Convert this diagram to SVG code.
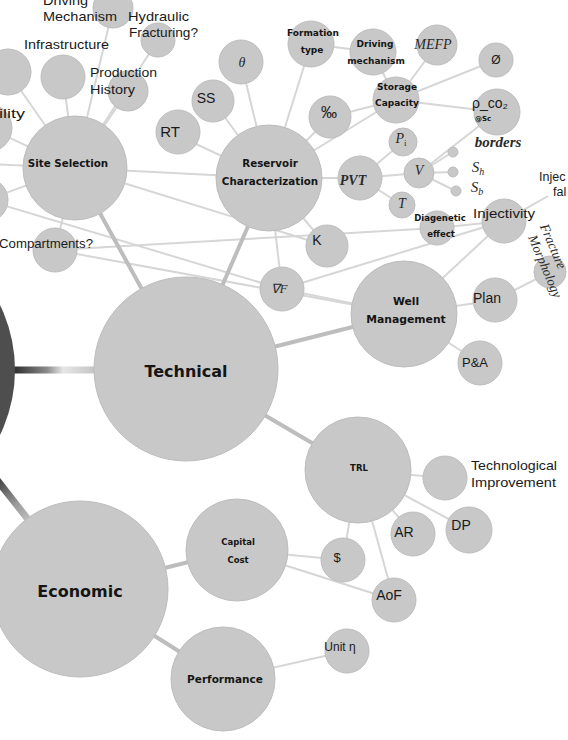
<svg xmlns="http://www.w3.org/2000/svg" width="568" height="740" viewBox="0 0 568 740">
<defs>
<style>
.n{fill:#c8c8c8;stroke:#bdbdbd;stroke-width:1}
.l{stroke:#d6d6d6;stroke-width:2;fill:none}
.th{stroke:#bdbdbd;stroke-width:4;fill:none}
.b{font-family:"DejaVu Sans",sans-serif;font-weight:bold;fill:#151515;text-anchor:middle}
.r{font-family:"Liberation Sans",Arial,sans-serif;fill:#1a1a1a}
.m{font-family:"Liberation Serif","Times New Roman",serif;font-style:italic;fill:#2a2a2a;text-anchor:middle}
</style>
<linearGradient id="gT" gradientUnits="userSpaceOnUse" x1="14" y1="370" x2="96" y2="370">
<stop offset="0" stop-color="#2e2e2e"/><stop offset="0.4" stop-color="#8a8a8a"/><stop offset="0.6" stop-color="#e6e6e6"/><stop offset="1" stop-color="#c2c2c2"/>
</linearGradient>
<linearGradient id="gE" gradientUnits="userSpaceOnUse" x1="-5" y1="478" x2="30" y2="522">
<stop offset="0" stop-color="#3a3a3a"/><stop offset="0.6" stop-color="#9a9a9a"/><stop offset="1" stop-color="#c2c2c2"/>
</linearGradient>
</defs>
<rect width="568" height="740" fill="#ffffff"/>
<g id="connectors">
<line class="l" x1="75" y1="168" x2="8" y2="72"/>
<line class="l" x1="75" y1="168" x2="-12" y2="128"/>
<line class="l" x1="75" y1="168" x2="63" y2="77"/>
<line class="l" x1="75" y1="168" x2="113" y2="8"/>
<line class="l" x1="75" y1="168" x2="158" y2="40"/>
<line class="l" x1="75" y1="168" x2="128" y2="91"/>
<line class="l" x1="75" y1="168" x2="-14" y2="200"/>
<line class="l" x1="75" y1="168" x2="-30" y2="163"/>
<line class="l" x1="75" y1="168" x2="55" y2="250"/>
<line class="l" x1="75" y1="168" x2="269" y2="178"/>
<line class="l" x1="75" y1="168" x2="327" y2="246"/>
<line class="l" x1="55" y1="250" x2="404" y2="314"/>
<line class="l" x1="55" y1="250" x2="437" y2="228"/>
<line class="l" x1="-14" y1="200" x2="282" y2="289"/>
<line class="l" x1="269" y1="178" x2="241" y2="62"/>
<line class="l" x1="269" y1="178" x2="213" y2="101"/>
<line class="l" x1="269" y1="178" x2="170" y2="132"/>
<line class="l" x1="269" y1="178" x2="311" y2="44"/>
<line class="l" x1="269" y1="178" x2="330" y2="117"/>
<line class="l" x1="269" y1="178" x2="396" y2="100"/>
<line class="l" x1="269" y1="178" x2="360" y2="178"/>
<line class="l" x1="269" y1="178" x2="327" y2="246"/>
<line class="l" x1="269" y1="178" x2="282" y2="289"/>
<line class="l" x1="360" y1="178" x2="403" y2="142"/>
<line class="l" x1="360" y1="178" x2="419" y2="173"/>
<line class="l" x1="360" y1="178" x2="402" y2="205"/>
<line class="l" x1="396" y1="100" x2="373" y2="52"/>
<line class="l" x1="396" y1="100" x2="437" y2="45"/>
<line class="l" x1="396" y1="100" x2="496" y2="60"/>
<line class="l" x1="396" y1="100" x2="497" y2="112"/>
<line class="l" x1="396" y1="100" x2="330" y2="117"/>
<line class="l" x1="311" y1="44" x2="373" y2="52"/>
<line class="l" x1="497" y1="112" x2="419" y2="173"/>
<line class="l" x1="419" y1="173" x2="453" y2="152"/>
<line class="l" x1="419" y1="173" x2="453" y2="172"/>
<line class="l" x1="419" y1="173" x2="456" y2="191"/>
<line class="l" x1="437" y1="228" x2="504" y2="221"/>
<line class="l" x1="504" y1="221" x2="404" y2="314"/>
<line class="l" x1="504" y1="221" x2="548" y2="196"/>
<line class="l" x1="282" y1="289" x2="504" y2="221"/>
<line class="l" x1="282" y1="289" x2="404" y2="314"/>
<line class="l" x1="404" y1="314" x2="495" y2="300"/>
<line class="l" x1="404" y1="314" x2="480" y2="363"/>
<line class="l" x1="495" y1="300" x2="550" y2="272"/>
<line class="l" x1="358" y1="470" x2="445" y2="478"/>
<line class="l" x1="358" y1="470" x2="469" y2="530"/>
<line class="l" x1="358" y1="470" x2="413" y2="534"/>
<line class="l" x1="358" y1="470" x2="343" y2="560"/>
<line class="l" x1="358" y1="470" x2="394" y2="600"/>
<line class="l" x1="237" y1="550" x2="343" y2="560"/>
<line class="l" x1="237" y1="550" x2="394" y2="600"/>
<line class="l" x1="223" y1="679" x2="347" y2="651"/>
<line class="th" x1="186" y1="369" x2="75" y2="168"/>
<line class="th" x1="186" y1="369" x2="269" y2="178"/>
<line class="th" x1="186" y1="369" x2="404" y2="314"/>
<line class="th" x1="186" y1="369" x2="358" y2="470"/>
<line class="th" x1="80" y1="589" x2="237" y2="550"/>
<line class="th" x1="80" y1="589" x2="223" y2="679"/>
<line x1="10" y1="370" x2="100" y2="370" stroke="url(#gT)" stroke-width="7"/>
<line x1="-10" y1="471" x2="34" y2="527" stroke="url(#gE)" stroke-width="7"/>
</g>
<g id="core"><circle cx="-133" cy="370" r="148" fill="#4e4e4e"/></g>
<g id="technical"><circle class="n" cx="186" cy="369" r="92"/><text class="b" x="186" y="377" font-size="16">Technical</text></g>
<g id="economic"><circle class="n" cx="80" cy="589" r="88"/><text class="b" x="80" y="597" font-size="16">Economic</text></g>
<g id="site-selection"><circle class="n" cx="75" cy="168" r="52"/><text class="b" x="68" y="167" font-size="10.3">Site Selection</text></g>
<g id="reservoir"><circle class="n" cx="269" cy="178" r="53"/><text class="b" x="270" y="167" font-size="10.3">Reservoir</text><text class="b" x="270" y="185" font-size="10.3">Characterization</text></g>
<g id="well-management"><circle class="n" cx="404" cy="314" r="53"/><text class="b" x="406" y="305" font-size="10.8">Well</text><text class="b" x="406" y="323" font-size="10.8">Management</text></g>
<g id="trl"><circle class="n" cx="358" cy="470" r="53"/><text class="b" x="359" y="471" font-size="8.5">TRL</text></g>
<g id="capital-cost"><circle class="n" cx="237" cy="550" r="51"/><text class="b" x="238" y="545" font-size="8.5" fill="#555">Capital</text><text class="b" x="238" y="563" font-size="8.5" fill="#555">Cost</text></g>
<g id="performance"><circle class="n" cx="223" cy="679" r="52"/><text class="b" x="225" y="683" font-size="10.5">Performance</text></g>
<g id="unit-eta"><circle class="n" cx="347" cy="651" r="22"/><text class="r" x="340" y="651" font-size="12" text-anchor="middle" fill="#444">Unit η</text></g>
<g id="aof"><circle class="n" cx="394" cy="600" r="22"/><text class="r" x="389" y="600" font-size="14" text-anchor="middle">AoF</text></g>
<g id="dollar"><circle class="n" cx="343" cy="560" r="22"/><text class="r" x="337" y="562" font-size="13" text-anchor="middle" fill="#444">$</text></g>
<g id="ar"><circle class="n" cx="413" cy="534" r="22"/><text class="r" x="404" y="537" font-size="14" text-anchor="middle">AR</text></g>
<g id="dp"><circle class="n" cx="469" cy="530" r="23"/><text class="r" x="461" y="530" font-size="14" text-anchor="middle">DP</text></g>
<g id="tech-improvement"><circle class="n" cx="445" cy="478" r="22"/><text class="r" x="471" y="470" font-size="13" textLength="86" lengthAdjust="spacingAndGlyphs">Technological</text><text class="r" x="471" y="487" font-size="13" textLength="85" lengthAdjust="spacingAndGlyphs">Improvement</text></g>
<g id="pa"><circle class="n" cx="480" cy="363" r="22"/><text class="r" x="475" y="367" font-size="13" text-anchor="middle">P&amp;A</text></g>
<g id="plan"><circle class="n" cx="495" cy="300" r="22"/><text class="r" x="487" y="303" font-size="14" text-anchor="middle">Plan</text></g>
<g id="grad-f"><circle class="n" cx="282" cy="289" r="22"/><text class="m" x="279" y="293" font-size="13">∇F</text></g>
<g id="k"><circle class="n" cx="327" cy="246" r="21"/><text class="r" x="317" y="245" font-size="14" text-anchor="middle" fill="#444">K</text></g>
<g id="pvt"><circle class="n" cx="360" cy="178" r="22"/><text class="m" x="353" y="185" font-size="14" font-weight="bold" fill="#111">PVT</text></g>
<g id="compartments"><circle class="n" cx="55" cy="250" r="22"/><text class="r" x="-1" y="248" font-size="13.5" textLength="94" lengthAdjust="spacingAndGlyphs">Compartments?</text></g>
<g id="rt"><circle class="n" cx="178" cy="132" r="22"/><text class="r" x="170" y="137" font-size="15" text-anchor="middle">RT</text></g>
<g id="left-a"><circle class="n" cx="8" cy="72" r="23"/></g>
<g id="left-b"><circle class="n" cx="-12" cy="128" r="24"/><text class="r" x="-1" y="118" font-size="13.5" textLength="26" lengthAdjust="spacingAndGlyphs">ility</text></g>
<g id="left-c"><circle class="n" cx="-14" cy="200" r="22"/></g>
<g id="infrastructure"><circle class="n" cx="63" cy="77" r="22"/><text class="r" x="24" y="49" font-size="13" textLength="85" lengthAdjust="spacingAndGlyphs">Infrastructure</text></g>
<g id="production-history"><circle class="n" cx="128" cy="91" r="20"/><text class="r" x="90" y="77" font-size="13" textLength="67" lengthAdjust="spacingAndGlyphs">Production</text><text class="r" x="90" y="94" font-size="13" textLength="45" lengthAdjust="spacingAndGlyphs">History</text></g>
<g id="driving-mechanism-a"><circle class="n" cx="113" cy="8" r="20"/><text class="r" x="43" y="5" font-size="13" textLength="45" lengthAdjust="spacingAndGlyphs">Driving</text><text class="r" x="43" y="21" font-size="13" textLength="74" lengthAdjust="spacingAndGlyphs">Mechanism</text></g>
<g id="hydraulic-fracturing"><circle class="n" cx="158" cy="40" r="17"/><text class="r" x="128" y="21" font-size="13" textLength="61" lengthAdjust="spacingAndGlyphs">Hydraulic</text><text class="r" x="129" y="37" font-size="13" textLength="69" lengthAdjust="spacingAndGlyphs">Fracturing?</text></g>
<g id="theta"><circle class="n" cx="241" cy="62" r="22"/><text class="m" x="242" y="67" font-size="14">θ</text></g>
<g id="ss"><circle class="n" cx="213" cy="101" r="21"/><text class="r" x="206" y="103" font-size="14" text-anchor="middle" fill="#444">SS</text></g>
<g id="formation-type"><circle class="n" cx="311" cy="44" r="23"/><text class="b" x="313" y="36" font-size="9">Formation</text><text class="b" x="312" y="53" font-size="9">type</text></g>
<g id="driving-mechanism-b"><circle class="n" cx="373" cy="52" r="23"/><text class="b" x="375" y="47" font-size="9">Driving</text><text class="b" x="376" y="64" font-size="9">mechanism</text></g>
<g id="mefp"><circle class="n" cx="437" cy="45" r="20"/><text class="m" x="433" y="49" font-size="14">MEFP</text></g>
<g id="phi"><circle class="n" cx="496" cy="60" r="17"/><text class="r" x="496" y="64" font-size="12" text-anchor="middle" fill="#555">Ø</text></g>
<g id="permil"><circle class="n" cx="330" cy="117" r="21"/><text class="r" x="329" y="118" font-size="16" text-anchor="middle" fill="#555">‰</text></g>
<g id="storage-capacity"><circle class="n" cx="396" cy="100" r="23"/><text class="b" x="397" y="90" font-size="9">Storage</text><text class="b" x="397" y="106" font-size="9">Capacity</text></g>
<g id="rho-co2"><circle class="n" cx="497" cy="112" r="23"/><text class="r" x="472" y="108" font-size="14" fill="#333">ρ_co₂</text><text class="b" x="483" y="121" font-size="7" fill="#444">@Sc</text></g>
<g id="p-i"><circle class="n" cx="403" cy="142" r="14"/><text class="m" x="401" y="143" font-size="14">P<tspan font-size="9" dy="3" font-style="normal">i</tspan></text></g>
<g id="v"><circle class="n" cx="419" cy="173" r="15"/><text class="m" x="419" y="175" font-size="14">V</text></g>
<g id="t"><circle class="n" cx="402" cy="205" r="13"/><text class="m" x="402" y="208" font-size="14">T</text></g>
<g id="borders"><circle class="n" cx="453" cy="152" r="5"/><text class="m" x="498" y="147" font-size="15" font-weight="bold" fill="#444">borders</text></g>
<g id="s-h"><circle class="n" cx="453" cy="172" r="5"/><text class="m" x="478" y="172" font-size="15" fill="#444">S<tspan font-size="10" dy="3">h</tspan></text></g>
<g id="s-b"><circle class="n" cx="456" cy="191" r="5"/><text class="m" x="477" y="192" font-size="15" fill="#444">S<tspan font-size="10" dy="3">b</tspan></text></g>
<g id="diagenetic-effect"><circle class="n" cx="437" cy="228" r="17"/><text class="b" x="440" y="221" font-size="8.5">Diagenetic</text><text class="b" x="441" y="237" font-size="8.5">effect</text></g>
<g id="injectivity"><circle class="n" cx="504" cy="221" r="22"/><text class="r" x="473" y="218" font-size="13" textLength="62" lengthAdjust="spacingAndGlyphs" fill="#333">Injectivity</text></g>
<g id="injection"><text class="r" x="539" y="181" font-size="12.5" fill="#333">Injec</text><text class="r" x="553" y="196" font-size="12.5" fill="#333">fal</text></g>
<g id="fracture-morphology"><circle class="n" cx="550" cy="272" r="16"/><text class="m" x="549" y="248" font-size="13.5" transform="rotate(67 549 248)" fill="#444">Fracture</text><text class="m" x="541" y="268" font-size="13.5" transform="rotate(67 541 268)" fill="#444">Morphology</text></g>
</svg>
